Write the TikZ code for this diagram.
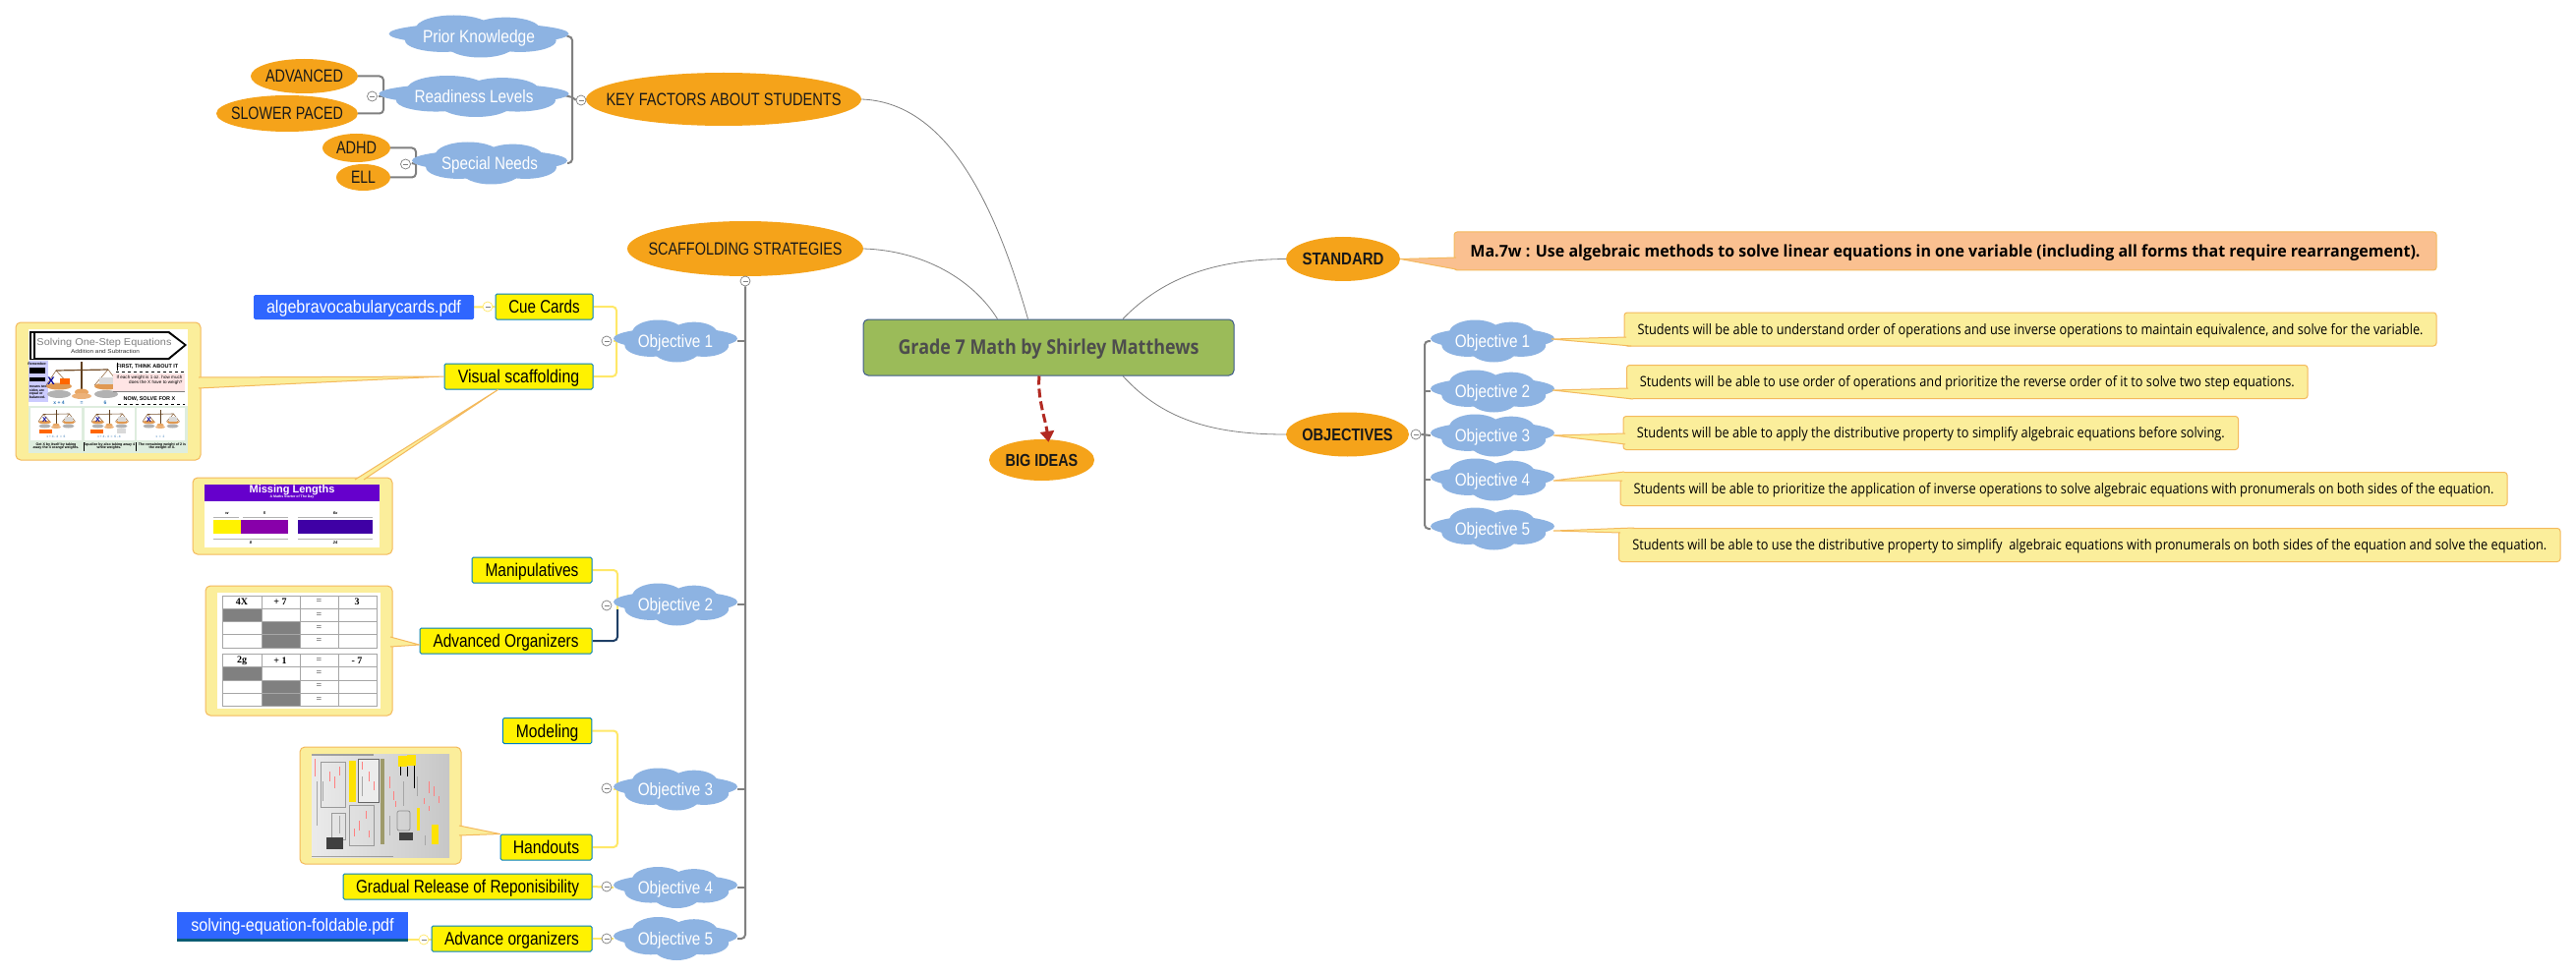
\documentclass[tikz,border=0pt]{standalone}
\usepackage{fontspec}
\usepackage{graphicx}
\setmainfont{Liberation Sans}
\newfontfamily\osf{Open Sans}
\newfontfamily\lsf{Liberation Serif}
\usetikzlibrary{shapes.geometric,arrows.meta,calc}
\pgfdeclarelayer{bg}\pgfsetlayers{bg,main}
\definecolor{orangeE}{HTML}{F5A31A}
\definecolor{cloudC}{HTML}{8DB3E2}
\definecolor{noteF}{HTML}{FBEE9B}
\definecolor{noteB}{HTML}{F4B95C}
\definecolor{stdF}{HTML}{FAC090}
\definecolor{ylwB}{HTML}{0080C0}
\definecolor{pdfB}{HTML}{2F66FF}
\definecolor{lineG}{HTML}{808080}
\definecolor{ylwL}{HTML}{FFE868}
\definecolor{mainG}{HTML}{9BBB59}
\definecolor{mainB}{HTML}{3D5A8A}
\definecolor{navyL}{HTML}{1F3F66}
\definecolor{redA}{HTML}{B22A22}
\definecolor{txtG}{HTML}{4D4D4D}
\definecolor{blueT}{HTML}{2E75B6}
\definecolor{purpA}{HTML}{6600CC}
\definecolor{purpB}{HTML}{8800AA}
\definecolor{purpC}{HTML}{3F00A5}
\definecolor{tealB}{HTML}{0B5D73}
\newcommand\zt[2]{\smash{\makebox[0pt]{\raisebox{-.36em}{\resizebox{#1pt}{\height}{#2}}}}}
\newcommand\sz[1]{\fontsize{#1}{#1}\selectfont}
\tikzset{
  ell/.style={ellipse,fill=orangeE,inner sep=0pt,text=black!90,font=\sz{18}},
  ellb/.style={ell,font=\sz{17.5}\bfseries},
  cld/.style={rectangle,inner sep=0pt,text=white,font=\sz{18}},
  ybox/.style={rectangle,rounded corners=1.5pt,draw=ylwB,line width=1pt,fill=yellow,inner sep=0pt,minimum height=26pt,font=\sz{18.5},text=black},
  pdfbox/.style={rectangle,rounded corners=1.5pt,fill=pdfB,inner sep=0pt,font=\sz{18},text=white},
  note/.style={rectangle,rounded corners=3pt,draw=noteB,line width=1pt,fill=noteF,inner sep=0pt,minimum height=34pt,font=\osf\sz{14.5},text=black},
  imgbox/.style={rectangle,rounded corners=5pt,draw=noteB,line width=1pt,fill=noteF,inner sep=0pt},
  coll/.style={circle,draw=lineG,fill=white,line width=.7pt,minimum size=10pt,inner sep=0pt,
    path picture={\draw[lineG,line width=.7pt] (path picture bounding box.center) ++(-2.5,0) -- ++(5,0);}},
  colly/.style={coll,draw=ylwL},
  gb/.style={draw=lineG,line width=2pt,rounded corners=4pt},
  yb/.style={draw=ylwL,line width=2pt,rounded corners=4pt},
  nb/.style={draw=navyL,line width=2pt,rounded corners=4pt},
  thin line/.style={draw=lineG,line width=.8pt},
}
% cloud: name, cx, cy, w, h, text
\newcommand\cloudn[6]{%
  \begin{scope}[shift={(#2,#3)},x=#4pt,y=#5pt]
    \fill[cloudC] (0,.06) ellipse (.5 and .26);
    \fill[cloudC] (.01,-.2) ellipse (.19 and .3);
    \fill[cloudC] (-.2,-.1) ellipse (.21 and .27);
    \fill[cloudC] (.23,-.1) ellipse (.2 and .27);
    \fill[cloudC] (-.14,.19) ellipse (.21 and .31);
    \fill[cloudC] (.15,.17) ellipse (.19 and .28);
  \end{scope}
  \node[cld,minimum width=#4pt,minimum height=#5pt] (#1) at (#2,#3) {#6};}
% callout tail: fill colour, base point, tip, base point
\newcommand\tail[4]{\fill[#1] (#2) -- (#3) -- (#4) -- cycle; \draw[noteB,line width=1pt,line join=round] (#2) -- (#3) -- (#4);}
% balance scale
\newcommand\balance[5]{\begin{scope}[shift={(#1,#2)},scale=#3]
  \fill[gray!60] (-23,33) ellipse (12 and 4); \fill[gray!60] (25,33) ellipse (12 and 4);
  \draw[brown!70!black,line width=.5pt] (-26,9) -- (-36,24) (-26,9) -- (-12,24) (27,8) -- (13,24) (27,8) -- (39,24);
  #4
  \fill[brown!60!orange!80] (-23,25) ellipse (13 and 3.5); \fill[brown!60!orange!80] (26,25) ellipse (13 and 3.5);
  \draw[brown!60!black,line width=#3*1.2pt] (-26,9) -- (27,8);
  \fill[brown!50!black] (-1,0) rectangle (1,30);
  \fill[orange!50!brown!70] (0,31) ellipse (7 and 3.5); \fill[orange!50!brown!60] (0,35) ellipse (10 and 3);
  #5
\end{scope}}
\begin{document}
\begin{tikzpicture}[x=1pt,y=-1pt,line cap=butt]
\useasboundingbox (0,0) rectangle (2620,992);

% central node
\node[rectangle,rounded corners=5pt,draw=mainB,line width=1pt,fill=mainG,minimum width=377pt,minimum height=57pt,inner sep=0pt,text=txtG,font=\osf\sz{20.5}\bfseries] (main) at (1066.5,353.5) {\zt{306}{Grade 7 Math by Shirley Matthews}};

% main branches
\node[ell,minimum width=280pt,minimum height=54pt] (key) at (736,101) {\zt{239}{KEY FACTORS ABOUT STUDENTS}};
\node[ell,minimum width=240pt,minimum height=56pt] (sca) at (758,253) {\zt{197}{SCAFFOLDING STRATEGIES}};
\node[ellb,minimum width=116pt,minimum height=45pt] (std) at (1366,263.5) {\zt{83}{STANDARD}};
\node[ellb,minimum width=125pt,minimum height=45pt] (obj) at (1370.5,442) {\zt{92.4}{OBJECTIVES}};
\node[ellb,minimum width=107pt,minimum height=42pt] (big) at (1059.5,468) {\zt{73.7}{BIG IDEAS}};

% key factors children
\cloudn{prior}{487}{37}{183}{43}{\zt{114}{Prior Knowledge}}
\cloudn{ready}{482}{98}{193}{42}{\zt{121}{Readiness Levels}}
\cloudn{spec}{498}{166}{158}{43}{\zt{98}{Special Needs}}
\node[ell,minimum width=109pt,minimum height=35pt] (adv) at (309.5,77.5) {\zt{79}{ADVANCED}};
\node[ell,minimum width=144pt,minimum height=37pt] (slow) at (292,115.5) {\zt{114}{SLOWER PACED}};
\node[ell,minimum width=69pt,minimum height=29pt] (adhd) at (362.5,150.5) {\zt{41}{ADHD}};
\node[ell,minimum width=55pt,minimum height=27pt] (ell) at (369.5,180.5) {\zt{25}{ELL}};
\node[coll] (ck) at (591,102) {};
\node[coll] (cr) at (378.5,98) {};
\node[coll] (cs) at (412.5,167) {};
\coordinate (bk) at (582,100);
\coordinate (br) at (390,98);
\coordinate (bs) at (423,167);

% scaffolding clouds
\node[coll] (cc) at (758,286) {};
\cloudn{o1}{687}{347}{126}{43}{\zt{76.5}{Objective 1}}
\cloudn{o2}{687}{615}{126}{43}{\zt{76.5}{Objective 2}}
\cloudn{o3}{687}{803}{126}{43}{\zt{76.5}{Objective 3}}
\cloudn{o4}{687}{903}{126}{42}{\zt{76.5}{Objective 4}}
\cloudn{o5}{687}{955}{126}{44}{\zt{76.5}{Objective 5}}
\foreach \n/\y in {c1/347,c2/616,c3/802,c4/902,c5/955}
  \node[coll] (\n) at (617,\y) {};
\coordinate (b1) at (627,347);
\coordinate (b2) at (628,620);
\coordinate (b3) at (628,803);

% yellow boxes
\node[ybox,minimum width=99pt] (cue) at (553.5,312) {\zt{72.5}{Cue Cards}};
\node[ybox,minimum width=151pt] (vis) at (527.5,383) {\zt{123.5}{Visual scaffolding}};
\node[ybox,minimum width=122pt] (man) at (541,580) {\zt{95}{Manipulatives}};
\node[ybox,minimum width=175pt] (ado) at (514.5,652) {\zt{148}{Advanced Organizers}};
\node[ybox,minimum width=90.5pt] (mod) at (556.7,743.5) {\zt{63.5}{Modeling}};
\node[ybox,minimum width=93pt] (han) at (555.5,862) {\zt{67.5}{Handouts}};
\node[ybox,minimum width=253pt] (gra) at (475.5,902) {\zt{227}{Gradual Release of Reponisibility}};
\node[ybox,minimum width=163pt] (ado2) at (520.5,955) {\zt{137}{Advance organizers}};
\node[pdfbox,minimum width=224pt,minimum height=25pt] (pdfa) at (370,312.5) {\zt{198}{algebravocabularycards.pdf}};
\node[colly] (cpa) at (496,312) {};
\node[rectangle,fill=pdfB,inner sep=0pt,minimum width=235pt,minimum height=27pt,font=\sz{18},text=white] (pdfb) at (297.5,941.5) {\zt{206.5}{solving-equation-foldable.pdf}};
\fill[tealB] (pdfb.south west) rectangle ++(235,3);
\node[colly] (cpb) at (431,956) {};

% objectives children
\cloudn{r1}{1518}{347}{126}{43}{\zt{76.5}{Objective 1}}
\cloudn{r2}{1518}{398}{126}{43}{\zt{76.5}{Objective 2}}
\cloudn{r3}{1518}{443}{126}{43}{\zt{76.5}{Objective 3}}
\cloudn{r4}{1518}{488}{126}{43}{\zt{76.5}{Objective 4}}
\cloudn{r5}{1518}{538}{126}{43}{\zt{76.5}{Objective 5}}
\node[coll] (co) at (1440,442) {};
\coordinate (bo) at (1449,442);

% notes
\node[note,draw=noteB,fill=stdF,minimum width=999pt,minimum height=39pt,font=\osf\sz{16.5}\bfseries] (nstd) at (1978.5,255.5) {\zt{966}{Ma.7w : Use algebraic methods to solve linear equations in one variable (including all forms that require rearrangement).}};
\tail{stdF}{1481,262}{std.east}{1481,274}
\node[note,minimum width=826pt] (n1) at (2065,335) {\zt{799}{Students will be able to understand order of operations and use inverse operations to maintain equivalence, and solve for the variable.}};
\node[note,minimum width=692.5pt] (n2) at (2000.75,388.5) {\zt{666}{Students will be able to use order of operations and prioritize the reverse order of it to solve two step equations.}};
\node[note,minimum width=625.5pt] (n3) at (1963.75,440.5) {\zt{598}{Students will be able to apply the distributive property to simplify algebraic equations before solving.}};
\node[note,minimum width=902pt] (n4) at (2099,497.5) {\zt{875}{Students will be able to prioritize the application of inverse operations to solve algebraic equations with pronumerals on both sides of the equation.}};
\node[note,minimum width=957.5pt] (n5) at (2125.25,554.5) {\zt{930}{Students will be able to use the distributive property to simplify~ algebraic equations with pronumerals on both sides of the equation and solve the equation.}};
\tail{noteF}{1654,343}{$(r1.east)+(-3,-2)$}{1659,352}
\tail{noteF}{1656,395}{$(r2.east)+(-2,-1)$}{1661,406}
\tail{noteF}{1653,441}{$(r3.east)+(-1,0)$}{1653,452}
\tail{noteF}{1652,480}{$(r4.east)+(-1,1)$}{1650,489}
\tail{noteF}{1662,537}{$(r5.east)+(-1,2)$}{1648,542}

% picture callouts
\node[imgbox,minimum width=188pt,minimum height=140pt] (i1) at (110,398) {};
\node[imgbox,minimum width=203pt,minimum height=78pt] (i2) at (297.5,525) {};
\node[imgbox,minimum width=190pt,minimum height=132pt] (i3) at (304,662) {};
\node[imgbox,minimum width=164pt,minimum height=119pt] (i4) at (387,819.5) {};
\tail{noteF}{202,384}{vis.west}{202,395}
\tail{noteF}{361,488}{$(vis.south west)+(55,0)$}{370,488}
\tail{noteF}{397,648}{$(ado.west)+(0,4)$}{397,658}
\tail{noteF}{467,840}{$(han.north west)+(0,0)$}{467,850}

% ---- picture 1: one-step equations
\fill[white] (29,335) rectangle (191,461);
\fill[black] (30,337) -- (172,337) -- (190,351) -- (172,366) -- (30,366) -- cycle;
\fill[white] (31.5,338.5) -- (34,338.5) -- (34,364.5) -- (31.5,364.5) -- cycle;
\fill[white] (36,339) -- (171,339) -- (187,351) -- (171,364) -- (36,364) -- cycle;
\node[text=gray,inner sep=0pt,font=\sz{10}] at (106,349) {\resizebox{137pt}{\height}{Solving One-Step Equations}};
\node[inner sep=0pt,font=\sz{5.5},text=black!80] at (107,357.5) {\resizebox{70pt}{\height}{Addition and Subtraction}};
\fill[blue!20] (29,367) rectangle (49,409);
\node[inner sep=0pt,font=\sz{3.5}\bfseries] at (38,370) {Remember:};
\fill[black] (30,374) rectangle (46,380);
\fill[black] (30,384) rectangle (46,388);
\node[inner sep=0pt,font=\sz{3.5}\bfseries,align=left] at (39,399) {means two\\sides are\\equal or\\balanced.};
\balance{83}{368}{1}{}{
  \node[text=blue!60!black,font=\sz{11}\bfseries,inner sep=0pt] at (-31,20) {X};
  \fill[orange!80!red] (-22,17) rectangle (-12,23);
  \fill[gray!30] (18,16) rectangle (36,23);}
\node[inner sep=0pt,font=\sz{5.5}\bfseries] at (150,373) {FIRST, THINK ABOUT IT};
\draw[black,line width=.6pt,dashed] (118,378) -- (187,378);
\draw[black,line width=1pt] (119,369) -- (119,377);
\fill[red!10] (115,380) rectangle (188,398);
\node[inner sep=0pt,font=\sz{4.6},align=right] at (152,387) {If each weight is 1 oz. how much\\does the X have to weigh?};
\draw[gray,line width=.8pt] (115,398) -- (188,398);
\node[inner sep=0pt,font=\sz{5.5}\bfseries] at (152,406) {NOW, SOLVE FOR X};
\draw[black,line width=.6pt,dashed] (120,411) -- (188,411);
\node[inner sep=0pt,font=\sz{5}\bfseries,text=blueT] at (60,410) {x + 4};
\node[inner sep=0pt,font=\sz{5}\bfseries,text=blueT] at (83,410) {=};
\node[inner sep=0pt,font=\sz{5}\bfseries,text=blueT] at (107,410) {6};
\fill[green!30!gray!20] (29,413) rectangle (191,461);
\fill[white] (31,415) rectangle (83,448);
\fill[white] (86,415) rectangle (137,448);
\fill[white] (139,415) rectangle (188,448);
\balance{57}{417}{.5}{}{
  \node[text=blue!60!black,font=\sz{7}\bfseries,inner sep=0pt] at (-23,20) {X};
  \fill[orange!80!red] (-34,40) rectangle (-8,48);
  \fill[gray!30] (18,14) rectangle (34,23);}
\balance{111}{417}{.5}{}{
  \node[text=blue!60!black,font=\sz{7}\bfseries,inner sep=0pt] at (-23,20) {X};
  \fill[orange!80!red] (-38,40) rectangle (-12,48);
  \fill[gray!30] (18,14) rectangle (34,23);\fill[gray!30] (16,38) rectangle (34,48);}
\balance{163}{417}{.5}{}{
  \node[text=blue!60!black,font=\sz{7}\bfseries,inner sep=0pt] at (-23,20) {X};
  \fill[gray!30] (18,14) rectangle (34,23);}
\node[inner sep=0pt,font=\sz{3.2},text=blueT] at (57,444) {x + 4 - 4 \ = \ 6};
\node[inner sep=0pt,font=\sz{3.2},text=blueT] at (111,444) {x + 4 - 4 \ = \ 6 - 4};
\node[inner sep=0pt,font=\sz{3.2},text=blueT] at (163,444) {x \ = \ 2};
\node[inner sep=0pt,font=\sz{3.6}\bfseries,align=center] at (57,454) {Get X by itself by taking\\away the 4 orange weights.};
\node[inner sep=0pt,font=\sz{3.6}\bfseries,align=center] at (111,454) {Equalize by also taking away 4\\white weights.};
\node[inner sep=0pt,font=\sz{3.6}\bfseries,align=center] at (165,454) {The remaining weight of 2 is\\the weight of X.};
\draw[black,line width=.7pt] (85,450) -- (85,459) (138,450) -- (138,459);

% ---- picture 2: missing lengths
\fill[white] (208,493) rectangle (386,557);
\fill[purpA] (208,493) rectangle (386,510);
\node[inner sep=0pt,text=white,font=\sz{11}\bfseries] at (297,498.5) {Missing Lengths};
\node[inner sep=0pt,text=white,font=\sz{3.5}\bfseries] at (297,506) {A Maths Starter of The Day};
\fill[yellow] (217,529) rectangle (245,543);
\fill[purpB] (245,529) rectangle (293,543);
\fill[purpC] (303,529) rectangle (379,543);
\draw[gray!60,line width=1pt] (217,526) -- (243,526) (247,526) -- (293,526) (303,526) -- (379,526) (217,548) -- (293,548) (303,548) -- (379,548);
\node[inner sep=0pt,font=\sz{4}\itshape\bfseries] at (231,522) {w};
\node[inner sep=0pt,font=\sz{4}\itshape\bfseries] at (269,522) {5};
\node[inner sep=0pt,font=\sz{4}\itshape\bfseries] at (341,522) {6x};
\node[inner sep=0pt,font=\sz{4}\itshape\bfseries] at (255,552) {8};
\node[inner sep=0pt,font=\sz{4}\itshape\bfseries] at (341,552) {24};

% ---- picture 3: tables
\fill[white] (221,603) rectangle (387,721);
\foreach \ya/\a/\b/\c in {606/4X/+ 7/3,665.5/2g/+ 1/- 7}{
  \fill[gray] (226,\ya+13.25) rectangle (266,\ya+26.5);
  \fill[gray] (266,\ya+26.5) rectangle (305,\ya+53);
  \draw[gray!70,line width=.8pt] (226,\ya) rectangle (383,\ya+53);
  \foreach \q in {13.25,26.5,39.75} \draw[gray!70,line width=.8pt] (226,\ya+\q) -- (383,\ya+\q);
  \foreach \xx in {266,305,344} \draw[gray!70,line width=.8pt] (\xx,\ya) -- (\xx,\ya+53);
  \node[inner sep=0pt,font=\lsf\sz{10}\bfseries] at (246,\ya+6.6) {\a};
  \node[inner sep=0pt,font=\lsf\sz{10}\bfseries] at (285,\ya+6.6) {\b};
  \node[inner sep=0pt,font=\lsf\sz{10}\bfseries] at (363,\ya+6.6) {\c};
  \foreach \q in {6.6,19.9,33.1,46.4} \node[inner sep=0pt,font=\lsf\sz{10}\bfseries,text=black!60] at (324.5,\ya+\q) {=};
}

% ---- picture 4: worksheet photo
\shade[left color=black!8,right color=black!22] (317,767) rectangle (457,872);
\fill[black!55,opacity=.6] (317,767) rectangle (380,768.5);
\fill[black!55,opacity=.6] (317,870.5) rectangle (400,872);
\begin{scope}[line width=.7pt]
\draw[gray!80] (326,775) rectangle (351,821);
\draw[gray!80] (355,819) rectangle (380,860);
\draw[gray!80] (337,827) rectangle (351,854);
\fill[yellow!85!orange] (355,774) rectangle (362,816);
\draw[black!60,line width=1pt,fill=white!85!gray] (364,772) rectangle (385,816);
\fill[black!45!olive!60] (387,772) rectangle (391,859);
\fill[black!75] (332,852) rectangle (349,864);
\fill[black!75] (406,847) rectangle (420,855);
\draw[gray!90,rounded corners=2pt] (404,825) rectangle (417,845);
\fill[yellow!85!orange] (405,769) rectangle (414,780);
\fill[yellow!85!orange] (414,768) rectangle (423,779);
\fill[yellow!85!orange] (439,839) rectangle (446,859);
\fill[yellow!85!orange] (424,822) rectangle (427,845);
\draw[black,line width=1pt] (407,780) -- (407,789) (414,780) -- (414,790) (421,779) -- (421,802);
\end{scope}
\foreach \xx/\yy/\ll in {320/772/18,335/785/10,340/790/12,345/780/9,368/775/8,375/785/10,380/795/9,372/825/8,365/835/10,375/845/7,360/843/8,396/790/12,400/805/9,402/815/6,436/795/12,441/800/10,446/810/7,431/812/6,436/820/5}
  \draw[red!50,line width=.6pt] (\xx,\yy) -- ++(0,\ll);
\foreach \xx/\yy/\ll in {322/795/45,328/795/20,345/830/18,368/790/20,396/830/20,410/795/25,424/790/20,432/850/10}
  \draw[gray!70,line width=.5pt] (\xx,\yy) -- ++(0,\ll);

% ---- connectors (drawn beneath nodes)
\begin{pgfonlayer}{bg}
\fill[white] (0,0) rectangle (2620,992);
\draw[thin line] (key.east) .. controls (960,104) and (1010,200) .. ($(main.north)+(-21,0)$);
\draw[thin line] (sca.east) .. controls (940,255) and (990,285) .. ($(main.north)+(-52,0)$);
\draw[thin line] ($(main.north)+(75.5,0)$) .. controls (1185,280) and (1240,264) .. (std.west);
\draw[thin line] ($(main.south)+(75.5,0)$) .. controls (1185,430) and (1240,442) .. (obj.west);
\draw[gb] (prior.east) -| (bk) |- (spec.east);
\draw[gb] (ready.east) -- (ready.east -| bk) -- (ck.west);
\draw[gb] (adv.east) -| (br) |- (slow.east);
\draw[gb] (br) -- (ready.west);
\draw[gb] (adhd.east) -| (bs) |- (ell.east);
\draw[gb] (bs) -- (spec.west);
\draw[gb] (cc.south) |- (o5.east);
\foreach \n in {o1,o2,o3,o4} \draw[gb] (\n.east) -- (\n.east -| cc.south);
\draw[gb] (sca.south) -- (cc.north);
\draw[yb] (pdfa.east) -- (cue.west);
\draw[yb] (cue.east) -| (b1) |- (vis.east);
\draw[yb] (b1) -- (o1.west);
\draw[yb] (man.east) -| (b2);
\draw[nb] (b2) |- (ado.east);
\draw[yb] (mod.east) -| (b3) |- (han.east);
\draw[yb] (b3) -- (o3.west);
\draw[yb] (gra.east) -- (o4.west);
\draw[yb] (ado2.east) -- (o5.west);
\draw[yb] (pdfb.east |- cpb) -- (ado2.west |- cpb);
\draw[gb] (r1.west) -| (bo) |- (r5.west);
\draw[gb] (r2.west) -- (r2.west -| bo);
\draw[gb] (r4.west) -- (r4.west -| bo);
\draw[gb] (co.east) -- (r3.west);
\end{pgfonlayer}
\draw[redA,line width=3pt,dash pattern=on 9pt off 4pt,-{Triangle[length=11pt,width=14pt]}] ($(main.south)+(-9.5,0)$) .. controls (1055,405) and (1063,425) .. ($(big.north)+(7,3)$);
\end{tikzpicture}
\end{document}
